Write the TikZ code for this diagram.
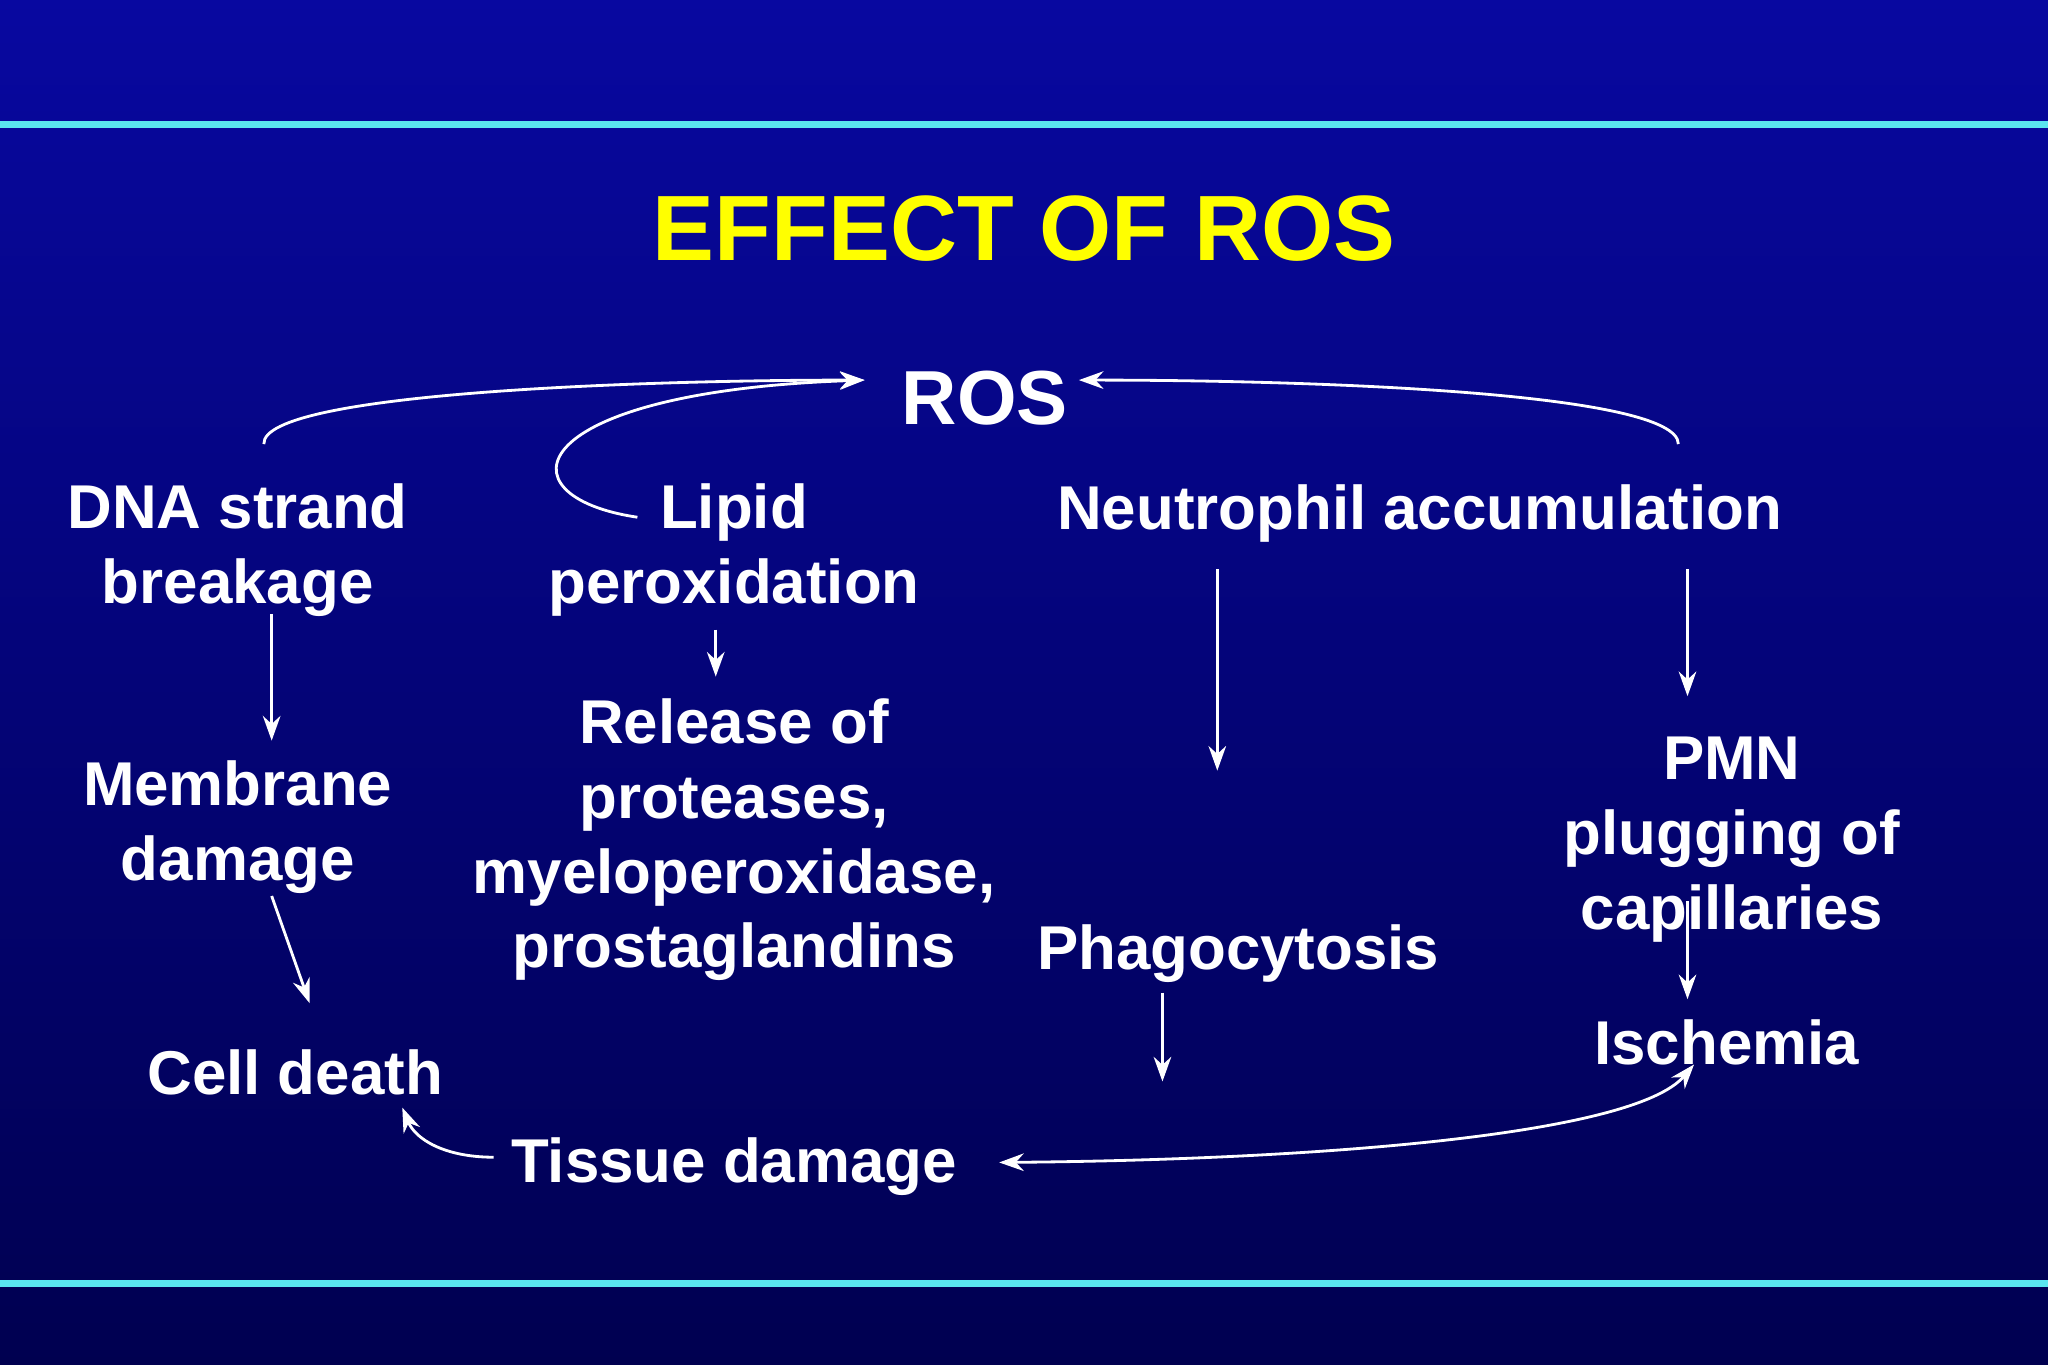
\documentclass[tikz,border=0pt]{standalone}
\usepackage{fontspec}
\setmainfont{Liberation Sans}
\usepackage{xcolor}
\usetikzlibrary{arrows.meta}
\definecolor{slidetop}{RGB}{8,8,160}
\definecolor{slidebot}{RGB}{0,0,80}
\definecolor{rule}{RGB}{90,230,240}
\definecolor{titlecol}{RGB}{255,255,0}

\begin{document}
\begin{tikzpicture}
    [x=0.01306cm,y=-0.01306cm,
    label/.style={text=white,font=\bfseries\fontsize{17.6}{21.3}\selectfont,align=center,inner sep=0pt},
    arc/.style={->,>={Stealth[length=7pt,width=5pt]},white,line width=0.8pt},
    biarc/.style={<->,>={Stealth[length=7pt,width=5pt]},white,line width=0.8pt}]

    \shade [top color=slidetop,bottom color=slidebot] (0,0) rectangle (1568,1045);
    \useasboundingbox (0,0) rectangle (1568,1045);
    \fill [rule] (0,93) rectangle (1568,98);
    \fill [rule] (0,980) rectangle (1568,985);

    \node (title) [text=titlecol,font=\bfseries\fontsize{26.4}{32}\selectfont] at (784,175) {EFFECT OF ROS};
    \node (ros) [label,font=\bfseries\fontsize{21.8}{26}\selectfont] at (754,305) {ROS};
    \node (dna) [label] at (182,421) {DNA strand\\breakage};
    \node (lipid) [label] at (562,421) {Lipid\\peroxidation};
    \node (neut) [label] at (1087,393) {Neutrophil accumulation};
    \node (memb) [label] at (182,633) {Membrane\\damage};
    \node (release) [label] at (562,643) {Release of\\proteases,\\myeloperoxidase,\\prostaglandins};
    \node (phago) [label] at (948,730) {Phagocytosis};
    \node (pmn) [label] at (1326,643) {PMN\\plugging of\\capillaries};
    \node (isch) [label] at (1322,798) {Ischemia};
    \node (death) [label] at (226,821) {Cell death};
    \node (tissue) [label] at (562,893) {Tissue damage};

    \coordinate (dnatop) at (202,340);
    \coordinate (lipidin) at (488,396);
    \coordinate (rosl) at (662,291);
    \coordinate (rosr) at (826,291);
    \coordinate (pmntop) at (1285,340);
    \coordinate (a1) at (208,470);  \coordinate (b1) at (208,567);
    \coordinate (a2) at (548,482);  \coordinate (b2) at (548,518);
    \coordinate (a3) at (932,436);  \coordinate (b3) at (932,590);
    \coordinate (a4) at (1292,436); \coordinate (b4) at (1292,533);
    \coordinate (a5) at (208,686);  \coordinate (b5) at (237,768);
    \coordinate (a6) at (890,760);  \coordinate (b6) at (890,828);
    \coordinate (a7) at (1292,690); \coordinate (b7) at (1292,765);
    \coordinate (ischin) at (1297,815);
    \coordinate (tissr) at (765,890);
    \coordinate (tissl) at (378,886);
    \coordinate (deathin) at (308,848);

    \draw [arc] (dnatop) .. controls (200,300) and (500,291) .. (rosl);
    \draw [arc] (lipidin) .. controls (380,380) and (400,300) .. (rosl);
    \draw [arc] (pmntop) .. controls (1285,300) and (1000,291) .. (rosr);
    \draw [arc] (a1) -- (b1);
    \draw [arc] (a2) -- (b2);
    \draw [arc] (a3) -- (b3);
    \draw [arc] (a4) -- (b4);
    \draw [arc] (a5) -- (b5);
    \draw [arc] (a6) -- (b6);
    \draw [arc] (a7) -- (b7);
    \draw [biarc] (ischin) .. controls (1250,870) and (1000,888) .. (tissr);
    \draw [arc] (tissl) .. controls (340,886) and (318,872) .. (deathin);

\end{tikzpicture}
\end{document}
